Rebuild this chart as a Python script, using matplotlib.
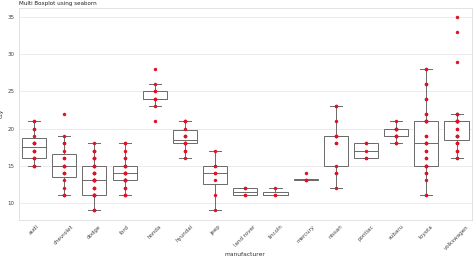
import matplotlib
matplotlib.use("Agg")
import matplotlib.pyplot as plt

manufacturers = ["audi", "chevrolet", "dodge", "ford", "honda", "hyundai", "jeep",
                 "land rover", "lincoln", "mercury", "nissan", "pontiac", "subaru",
                 "toyota", "volkswagen"]

audi = [18, 21, 20, 21, 16, 18, 18, 18, 16, 20, 19, 15, 17, 17, 15, 15, 17, 16]
chevrolet = [11, 11, 11, 12, 13, 14, 14, 14, 15, 15, 15, 15, 16, 16, 17, 18, 18, 19, 22]
dodge = [9] * 3 + [11] * 7 + [12] * 3 + [13] * 8 + [14] * 4 + [15] * 4 + [16] * 4 + [17] * 3 + [18]
ford = [11] * 3 + [12] * 2 + [13] * 6 + [14] * 5 + [15] * 4 + [16] * 2 + [17] + [18] * 2
honda = [28, 24, 25, 23, 24, 26, 25, 24, 21]
hyundai = [16, 17, 17, 18, 18, 18, 18, 19, 19, 19, 20, 21, 21, 21]
jeep = [17, 15, 15, 14, 9, 14, 13, 11]
land_rover = [11, 11, 12, 12]
lincoln = [11, 11, 12]
mercury = [14, 13, 13, 13]
nissan = [12, 14, 14, 15, 18, 18, 19, 19, 19, 19, 21, 23, 23]
pontiac = [18, 16, 17, 18, 16]
subaru = [18] * 3 + [19] * 5 + [20] * 5 + [21]
toyota = ([11] * 2 + [13] + [14] * 2 + [15] * 5 + [16] * 2 + [17] * 2 + [18] * 4 + [19] * 2
          + [21] * 6 + [22] * 2 + [24] * 2 + [26] * 2 + [28] * 2)
volkswagen = ([16] * 2 + [17] * 2 + [18] * 3 + [19] * 4 + [20] * 2 + [21] * 8 + [22] * 3
              + [29, 33, 35])

cty = [audi, chevrolet, dodge, ford, honda, hyundai, jeep, land_rover, lincoln,
       mercury, nissan, pontiac, subaru, toyota, volkswagen]

fig = plt.figure(figsize=(4.74, 2.57), dpi=100)
ax = fig.add_axes([0.04, 0.145, 0.955, 0.825])

line_col = "#6a6a6a"
ax.boxplot(cty, positions=range(len(cty)), widths=0.8, patch_artist=True,
           showfliers=False,
           boxprops=dict(facecolor="white", edgecolor=line_col, linewidth=0.7),
           medianprops=dict(color=line_col, linewidth=0.7),
           whiskerprops=dict(color=line_col, linewidth=0.7),
           capprops=dict(color=line_col, linewidth=0.7), zorder=2)

for i, vals in enumerate(cty):
    ax.plot([i] * len(vals), vals, "o", color="#dc1428", markersize=2.5,
            markeredgewidth=0, zorder=3)

ax.set_xlim(-0.5, len(cty) - 0.5)
ax.set_ylim(7.7, 36.3)
ax.set_yticks([10, 15, 20, 25, 30, 35])
ax.set_xticks(range(len(cty)))
ax.set_xticklabels(manufacturers, rotation=45)
ax.tick_params(labelsize=4, colors="#444444", length=0, pad=3)
ax.grid(axis="y", color="#e8e8e8", linewidth=0.6, zorder=0)
ax.set_axisbelow(True)
for s in ax.spines.values():
    s.set_color("#dddddd")
    s.set_linewidth(0.6)

ax.set_xlabel("manufacturer", fontsize=4.3, color="#333333", labelpad=1)
ax.set_ylabel("cty", fontsize=4.3, color="#333333", labelpad=3)
ax.set_title("Multi Boxplot using seaborn", fontsize=4.1, loc="left", color="#222222", pad=2)

plt.savefig("out.png", dpi=100)
